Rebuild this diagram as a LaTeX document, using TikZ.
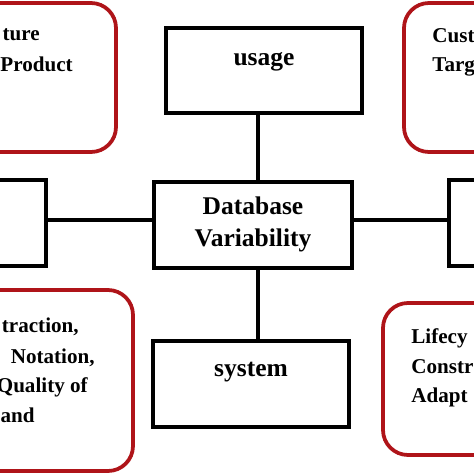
\documentclass[tikz,border=0pt]{standalone}
\usepackage{fontspec}
\setmainfont{Liberation Serif}
\usepackage{xcolor}
\usepackage{tikz}
\usetikzlibrary{calc}
\definecolor{boxred}{RGB}{175,20,25}
\tikzset{
 blackbox/.style={draw=black, line width=.8mm, inner sep=0, minimum width=39.2mm, minimum height=17mm, align=center, font=\bfseries\fontsize{14.5}{18.2}\selectfont},
 redbox/.style={draw=boxred, line width=.75mm, rounded corners=5mm, inner sep=0},
 txt/.style={inner sep=0, font=\bfseries\fontsize{12}{17}\selectfont},
 link/.style={black, line width=.65mm}
}

\begin{document}
\begin{tikzpicture}[x=.2mm, y=-.2mm]
\useasboundingbox (0,0) rectangle (474,474);
\clip (0,0) rectangle (474,474);
\node[redbox, minimum width=48mm, minimum height=29.8mm] (feat) at (-4,77.5) {};
\node[redbox, minimum width=48mm, minimum height=29.8mm] (cust) at (524,77.5) {};
\node[redbox, minimum width=52mm, minimum height=36.2mm] (abst) at (3,380.5) {};
\node[redbox, minimum width=48mm, minimum height=30.4mm] (life) at (503,379) {};
\node[blackbox, text height=7.4mm, text depth=9.6mm] (usage) at (264,70.5) {usage};
\node[blackbox, minimum width=39.6mm, minimum height=17.2mm] (db) at (253,224.5) {Database\\Variability};
\node[blackbox, text height=7mm, text depth=10.2mm] (system) at (251,384) {system};
\node[blackbox, minimum width=39.6mm, minimum height=17.2mm] (west) at (-53,223) {};
\node[blackbox, minimum width=39.6mm, minimum height=17.2mm] (east) at (548,223) {};
\coordinate (spine) at (258,0);
\coordinate (hub) at (0,220);
\draw[link] (usage.south -| spine) -- (db.north -| spine);
\draw[link] (db.south -| spine) -- (system.north -| spine);
\draw[link] (west.east |- hub) -- (db.west |- hub);
\draw[link] (db.east |- hub) -- (east.west |- hub);
\foreach \t/\x/\y [count=\i] in {ture/40/40, Product/73/71}
 \node[txt, anchor=base east] (feat\i) at (\x,\y) {\t};
\foreach \t/\x/\y [count=\i] in {Cust/432/42, Targ/432/71}
 \node[txt, anchor=base west] (cust\i) at (\x,\y) {\t};
\foreach \t/\x/\y [count=\i] in {{traction,}/79/332, {Notation,}/95/363, {Quality of}/88/392, and/35/422}
 \node[txt, anchor=base east] (abst\i) at (\x,\y) {\t};
\foreach \t/\x/\y [count=\i] in {Lifecy/411/343, Constr/411/373, Adapt/411/402}
 \node[txt, anchor=base west] (life\i) at (\x,\y) {\t};
\end{tikzpicture}
\end{document}
